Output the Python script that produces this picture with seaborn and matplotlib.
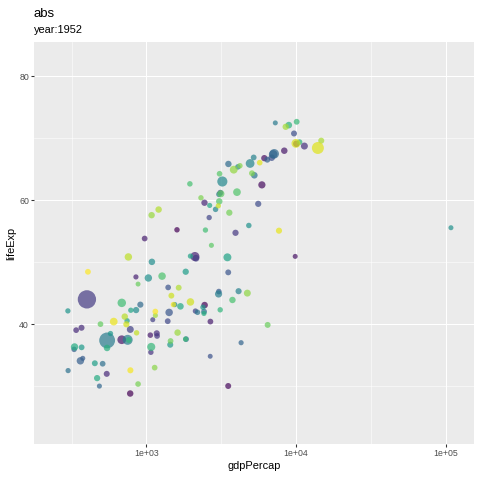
import numpy as np
import pandas as pd
import matplotlib
matplotlib.use('Agg')
import matplotlib.pyplot as plt
import seaborn as sns

# gapminder, year 1952
countries = [
    'Afghanistan', 'Albania', 'Algeria', 'Angola', 'Argentina', 'Australia', 'Austria', 'Bahrain',
    'Bangladesh', 'Belgium', 'Benin', 'Bolivia', 'Bosnia and Herzegovina', 'Botswana', 'Brazil',
    'Bulgaria', 'Burkina Faso', 'Burundi', 'Cambodia', 'Cameroon', 'Canada', 'Central African Republic',
    'Chad', 'Chile', 'China', 'Colombia', 'Comoros', 'Congo, Dem. Rep.', 'Congo, Rep.', 'Costa Rica',
    "Cote d'Ivoire", 'Croatia', 'Cuba', 'Czech Republic', 'Denmark', 'Djibouti', 'Dominican Republic',
    'Ecuador', 'Egypt', 'El Salvador', 'Equatorial Guinea', 'Eritrea', 'Ethiopia', 'Finland', 'France',
    'Gabon', 'Gambia', 'Germany', 'Ghana', 'Greece', 'Guatemala', 'Guinea', 'Guinea-Bissau', 'Haiti',
    'Honduras', 'Hong Kong, China', 'Hungary', 'Iceland', 'India', 'Indonesia', 'Iran', 'Iraq', 'Ireland',
    'Israel', 'Italy', 'Jamaica', 'Japan', 'Jordan', 'Kenya', 'Korea, Dem. Rep.', 'Korea, Rep.', 'Kuwait',
    'Lebanon', 'Lesotho', 'Liberia', 'Libya', 'Madagascar', 'Malawi', 'Malaysia', 'Mali', 'Mauritania',
    'Mauritius', 'Mexico', 'Mongolia', 'Montenegro', 'Morocco', 'Mozambique', 'Myanmar', 'Namibia',
    'Nepal', 'Netherlands', 'New Zealand', 'Nicaragua', 'Niger', 'Nigeria', 'Norway', 'Oman', 'Pakistan',
    'Panama', 'Paraguay', 'Peru', 'Philippines', 'Poland', 'Portugal', 'Puerto Rico', 'Reunion', 'Romania',
    'Rwanda', 'Sao Tome and Principe', 'Saudi Arabia', 'Senegal', 'Serbia', 'Sierra Leone', 'Singapore',
    'Slovak Republic', 'Slovenia', 'Somalia', 'South Africa', 'Spain', 'Sri Lanka', 'Sudan', 'Swaziland',
    'Sweden', 'Switzerland', 'Syria', 'Taiwan', 'Tanzania', 'Thailand', 'Togo', 'Trinidad and Tobago',
    'Tunisia', 'Turkey', 'Uganda', 'United Kingdom', 'United States', 'Uruguay', 'Venezuela', 'Vietnam',
    'West Bank and Gaza', 'Yemen, Rep.', 'Zambia', 'Zimbabwe',
]

life_exp = [
    28.801, 55.23, 43.077, 30.015, 62.485, 69.12, 66.8, 50.939,
    37.484, 68.0, 38.223, 40.414, 53.82, 47.622, 50.917,
    59.6, 31.975, 39.031, 39.417, 38.523, 68.75, 35.463,
    38.092, 54.745, 44.0, 50.643, 40.715, 39.143, 42.111, 57.206,
    40.477, 61.21, 59.421, 66.87, 70.78, 34.812, 45.928,
    48.357, 41.893, 45.262, 34.482, 35.928, 34.078, 66.55, 67.41,
    37.003, 30.0, 67.5, 43.149, 65.86, 42.023, 33.609, 32.5, 37.579,
    41.912, 60.96, 64.03, 72.49, 37.373, 37.468, 44.869, 45.32, 66.91,
    65.39, 65.94, 58.53, 63.03, 43.158, 42.27, 50.056, 47.453, 55.565,
    55.928, 42.138, 38.48, 42.723, 36.681, 36.256, 48.463, 33.685, 40.543,
    50.986, 50.789, 42.244, 59.164, 42.873, 31.286, 36.319, 41.725,
    36.157, 72.13, 69.39, 42.314, 37.444, 36.324, 72.67, 37.578, 43.436,
    55.191, 62.649, 43.902, 47.752, 61.31, 59.82, 64.28, 52.724, 61.05,
    40.0, 46.471, 39.875, 37.278, 57.996, 30.331, 60.396,
    64.36, 65.57, 32.978, 45.009, 64.94, 57.593, 38.635, 41.407,
    71.86, 69.62, 45.883, 58.5, 41.215, 50.848, 38.596, 59.1,
    44.6, 43.585, 39.978, 69.18, 68.44, 66.071, 55.088, 40.412,
    43.16, 32.548, 42.038, 48.451,
]

pop = [
    8425333, 1282697, 9279525, 4232095, 17876956, 8691212, 6927772, 120447,
    46886859, 8730405, 1738315, 2883315, 2791000, 442308, 56602560,
    7274900, 4469979, 2445618, 4693836, 5009067, 14785584, 1291695,
    2682462, 6377619, 556263527, 12350771, 153936, 14100005, 854885, 926317,
    2977019, 3882229, 6007797, 9125183, 4334000, 63149, 2491346,
    3548753, 22223309, 2042865, 216964, 1438760, 20860941, 4090500, 42459667,
    420702, 284320, 69145952, 5581001, 7733250, 3146381, 2664249, 580653, 3201488,
    1517453, 2125900, 9504000, 147962, 372000000, 82052000, 17272000, 5441766, 2952156,
    1620914, 47666000, 1426095, 86459025, 607914, 6464046, 8865488, 20947571, 160000,
    1439529, 748747, 863308, 1019729, 4762912, 2917802, 6748378, 3838168, 1022556,
    516556, 30144317, 800663, 413834, 9939217, 6446316, 20092996, 485831,
    9182536, 10381988, 1994794, 1165790, 3379468, 33119096, 3327728, 507833, 41346560,
    940080, 1555876, 8025700, 22438691, 25730551, 8526050, 2227000, 257700, 16630000,
    2534927, 60011, 4005677, 2755589, 6860147, 2143249, 1127000,
    3558137, 1489518, 2526994, 14264935, 28549870, 7982342, 8504667, 290243,
    7124673, 4815000, 3661549, 8550362, 8322925, 21289402, 1219113, 662850,
    3647735, 22235677, 5824797, 50430000, 157553000, 2252965, 5439568, 26246839,
    1030585, 4963829, 2672000, 3080907,
]

gdp_percap = [
    779.4453, 1601.056, 2449.008, 3520.610, 5911.315, 10039.60, 6137.076, 9867.085,
    684.2442, 8343.105, 1062.752, 2677.326, 973.5332, 851.2411, 2108.944,
    2444.287, 543.2552, 339.2965, 368.4693, 1172.668, 11367.16, 1071.311,
    1178.666, 3939.979, 400.4486, 2144.115, 1102.991, 780.5423, 2125.622, 2627.009,
    1388.595, 3119.237, 5586.539, 6876.140, 9692.385, 2669.530, 1397.717,
    3522.111, 1418.822, 3048.303, 375.6431, 328.9406, 362.1463, 6424.519, 7029.809,
    4293.476, 485.2307, 7144.114, 911.2989, 3530.690, 2428.238, 510.1965, 299.8503, 1840.367,
    2194.926, 3054.421, 5263.674, 7267.688, 546.5657, 749.6817, 3035.326, 4129.766, 5210.280,
    4086.522, 4931.404, 2898.531, 3216.956, 1546.908, 853.5409, 1088.278, 1030.592, 108382.4,
    4834.804, 298.8462, 575.5730, 2387.548, 1443.012, 369.1651, 1831.133, 452.3370, 743.1159,
    1967.956, 3478.126, 786.5669, 2647.586, 1688.204, 468.5260, 331.0, 2423.780,
    545.8657, 8941.572, 10556.58, 3112.364, 761.8794, 1077.281, 10095.42, 1828.230, 684.5971,
    2480.380, 1952.308, 3758.523, 1272.880, 4029.330, 3068.320, 3081.960, 2718.885, 3144.613,
    493.3239, 879.5836, 6459.555, 1450.357, 3581.459, 879.7877, 2315.138,
    5074.659, 4215.042, 1135.750, 4725.296, 3834.035, 1083.532, 1615.991, 1148.377,
    8527.845, 14734.23, 1643.485, 1206.947, 716.6501, 757.7974, 859.8087, 3023.272,
    1468.476, 1969.101, 734.7535, 9979.508, 13990.48, 5716.767, 7689.800, 605.0665,
    1515.592, 781.7176, 1147.389, 406.8841,
]

df = pd.DataFrame({'country': countries, 'lifeExp': life_exp, 'pop': pop, 'gdpPercap': gdp_percap})
# marker diameter grows with sqrt(pop), scatter wants area
diam = 4.8 + 13.5 * np.sqrt(df['pop'] / df['pop'].max())
df['dot'] = diam ** 2

colors = [matplotlib.colors.to_hex(c) for c in plt.cm.viridis(np.linspace(0, 1, len(countries)))]

plt.rcParams['font.family'] = ['Liberation Sans', 'DejaVu Sans']

fig = plt.figure(figsize=(480 / 72, 480 / 72), dpi=72)
ax = fig.add_axes([34 / 480, 1 - 444 / 480, 440 / 480, 402 / 480])
ax.set_facecolor('#EBEBEB')

sns.scatterplot(data=df, x='gdpPercap', y='lifeExp', hue='country', hue_order=countries,
                palette=colors, size='dot', sizes=(df['dot'].min(), df['dot'].max()),
                size_norm=(df['dot'].min(), df['dot'].max()), alpha=0.7, linewidth=0,
                legend=False, ax=ax, zorder=3)

ax.set_xscale('log')
ax.set_xlim(10 ** 2.249, 10 ** 5.189)
ax.set_ylim(20.65, 85.55)
ax.set_xticks([1e3, 1e4, 1e5])
ax.set_xticklabels(['1e+03', '1e+04', '1e+05'])
ax.set_xticks([10 ** 2.5, 10 ** 3.5, 10 ** 4.5], minor=True)
ax.set_yticks([40, 60, 80])
ax.set_yticks([30, 50, 70], minor=True)
ax.xaxis.set_minor_formatter(matplotlib.ticker.NullFormatter())

ax.grid(which='major', color='white', linewidth=1.07)
ax.grid(which='minor', color='white', linewidth=0.53)
ax.set_axisbelow(True)
for sp in ax.spines.values():
    sp.set_visible(False)
ax.tick_params(which='major', length=2.75, width=1.07, color='#333333', labelsize=8.8,
               labelcolor='#4D4D4D', pad=2.2)
ax.tick_params(which='minor', length=0)

ax.set_xlabel('gdpPercap', fontsize=11, color='black', labelpad=2.75)
ax.set_ylabel('lifeExp', fontsize=11, color='black', labelpad=2.75)

fig.text(34 / 480, 1 - 17.3 / 480, 'abs', fontsize=13.2, va='baseline', ha='left')
fig.text(34 / 480, 1 - 33.3 / 480, 'year:1952', fontsize=11, va='baseline', ha='left')

fig.savefig('out.png', dpi=72)
